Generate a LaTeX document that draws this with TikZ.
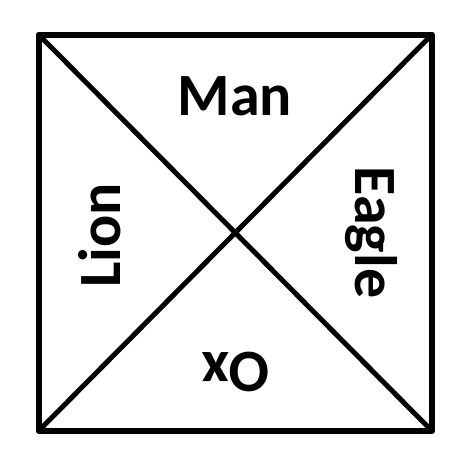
\documentclass[tikz,border=0pt]{standalone}
\usepackage{fontspec}
\setmainfont{Carlito}
\usetikzlibrary{calc}
\tikzset{
    beast/.style={font=\fontsize{60}{72}\selectfont\bfseries, inner sep=0pt, anchor=base}
}

\begin{document}
\begin{tikzpicture}[x=1pt, y=-1pt]
    \useasboundingbox (0, 0) rectangle (474, 474);

    \coordinate (tl) at (38.5, 34.5);
    \coordinate (tr) at (432, 34.5);
    \coordinate (br) at (432, 431);
    \coordinate (bl) at (38.5, 431);

    \draw[line width=6pt, line join=round] (tl) -- (tr) -- (br) -- (bl) -- cycle;
    \draw[line width=5pt]
    (tl) edge (br)
    (tr) edge (bl);

    \node[beast] (man) at (235, 115) {Man};
    \node[beast, rotate=-90] (eagle) at (355, 232.5) {Eagle};
    \node[beast, rotate=180] (ox) at (235.5, 352) {Ox};
    \node[beast, rotate=90] (lion) at (120, 235.5) {Lion};
\end{tikzpicture}
\end{document}
